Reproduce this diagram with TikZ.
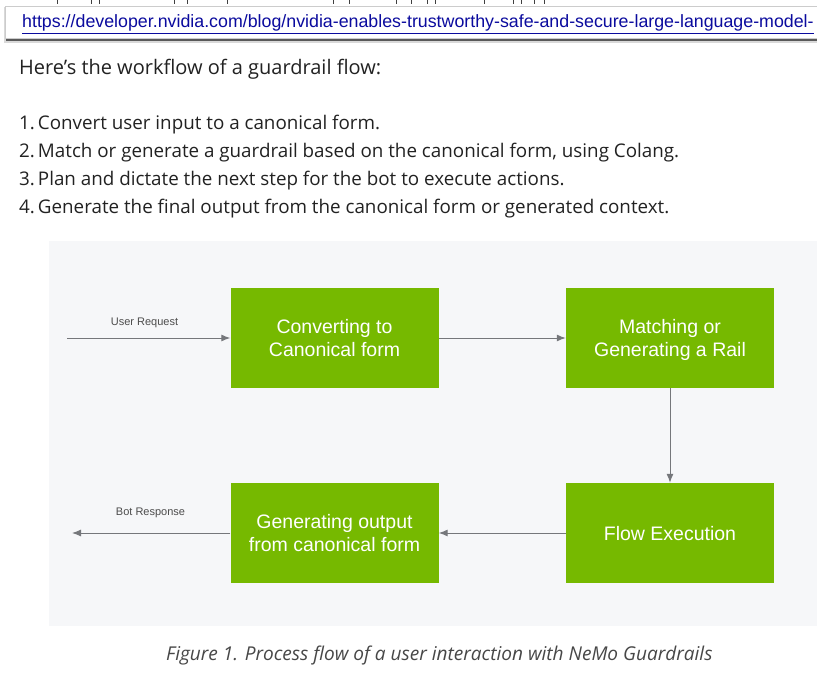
\documentclass[tikz,border=0pt]{standalone}
\usepackage{fontspec}
\setmainfont{Open Sans}
\newfontfamily\arialf{Liberation Sans}
\usetikzlibrary{arrows.meta}
\definecolor{nvgreen}{HTML}{76B900}
\definecolor{panelbg}{HTML}{F6F7F9}
\definecolor{linkblue}{HTML}{0B0B9E}
\definecolor{flowgrey}{HTML}{75777B}
\definecolor{bodyink}{HTML}{222222}
\newcommand{\numgap}{\hspace{-3.5pt}}
\tikzset{
  x=1pt,y=-1pt,
  bodyline/.style={anchor=base west,inner sep=0,text=bodyink,font=\fontsize{18.8}{20}\selectfont},
  greenbox/.style={fill=nvgreen,minimum width=208pt,minimum height=100pt,inner sep=0,text=white,align=center,font=\arialf\fontsize{19.5}{23}\selectfont},
  flow/.style={draw=flowgrey,line width=1pt,-{Latex[length=9pt,width=7pt]}},
  flowlabel/.style={inner sep=0,text=black!70,font=\arialf\fontsize{11}{13}\selectfont}
}
\begin{document}
\begin{tikzpicture}
\useasboundingbox (0,0) rectangle (817,679);
\fill[white] (0,0) rectangle (817,679);
\clip (0,0) rectangle (817,679);
% fragments of the cut-off line of text above the link bar
\foreach \tx in {57,91,99,174,187,227,333,349,396,411,427,435,484,513,521,534,544}
  \draw[black!75,line width=.8pt] (\tx,0) -- (\tx,4);
% link bar with its shadow
\fill[black!15] (4,7) rectangle (830,43);
\fill[black!65] (6,9) rectangle (830,41.5);
\fill[white,draw=black!20,line width=.5pt] (5,6) rectangle (830,38.5);
\node[anchor=base west,inner sep=0,text=linkblue,font=\arialf\fontsize{17.8}{20}\selectfont] (link) at (22,28) {\underline{https://developer.nvidia.com/blog/nvidia-enables-trustworthy-safe-and-secure-large-language-model-}};
% body
\node[bodyline,font=\fontsize{20}{22}\selectfont] (t0) at (19,75) {Here’s the workflow of a guardrail flow:};
\node[bodyline] (t1) at (19,130) {1.\numgap{} Convert user input to a canonical form.};
\node[bodyline] (t2) at (19,158) {2.\numgap{} Match or generate a guardrail based on the canonical form, using Colang.};
\node[bodyline] (t3) at (19,186) {3.\numgap{} Plan and dictate the next step for the bot to execute actions.};
\node[bodyline] (t4) at (19,214) {4.\numgap{} Generate the final output from the canonical form or generated context.};
% panel
\fill[panelbg] (49,241) rectangle (817,626);
\node[greenbox] (a) at (334.5,338) {Converting to\\Canonical form};
\node[greenbox] (b) at (670,338) {Matching or\\\raisebox{0pt}[\height][0pt]{Generating a Rail}};
\node[greenbox] (c) at (670,533) {\raisebox{0pt}[\dimexpr\height+1pt\relax][0pt]{Flow Execution}};
\node[greenbox] (d) at (334.5,533) {Generating output\\from canonical form};
\coordinate (in) at (67,338);
\coordinate (out) at (72,533);
\draw[flow] (in) -- (a);
\draw[flow] (a) -- (b);
\draw[flow] (b) -- (c);
\draw[flow] (c) -- (d);
\draw[flow] (d) -- (out);
\node[flowlabel] (ul) at (144.5,323) {User Request};
\node[flowlabel] (bl) at (150.5,512.5) {Bot Response};
\node[anchor=base west,inner sep=0,text=black!72,font=\itshape\fontsize{19.05}{21}\selectfont] (cap) at (166,660) {Figure 1. Process flow of a user interaction with NeMo Guardrails};
\end{tikzpicture}
\end{document}
